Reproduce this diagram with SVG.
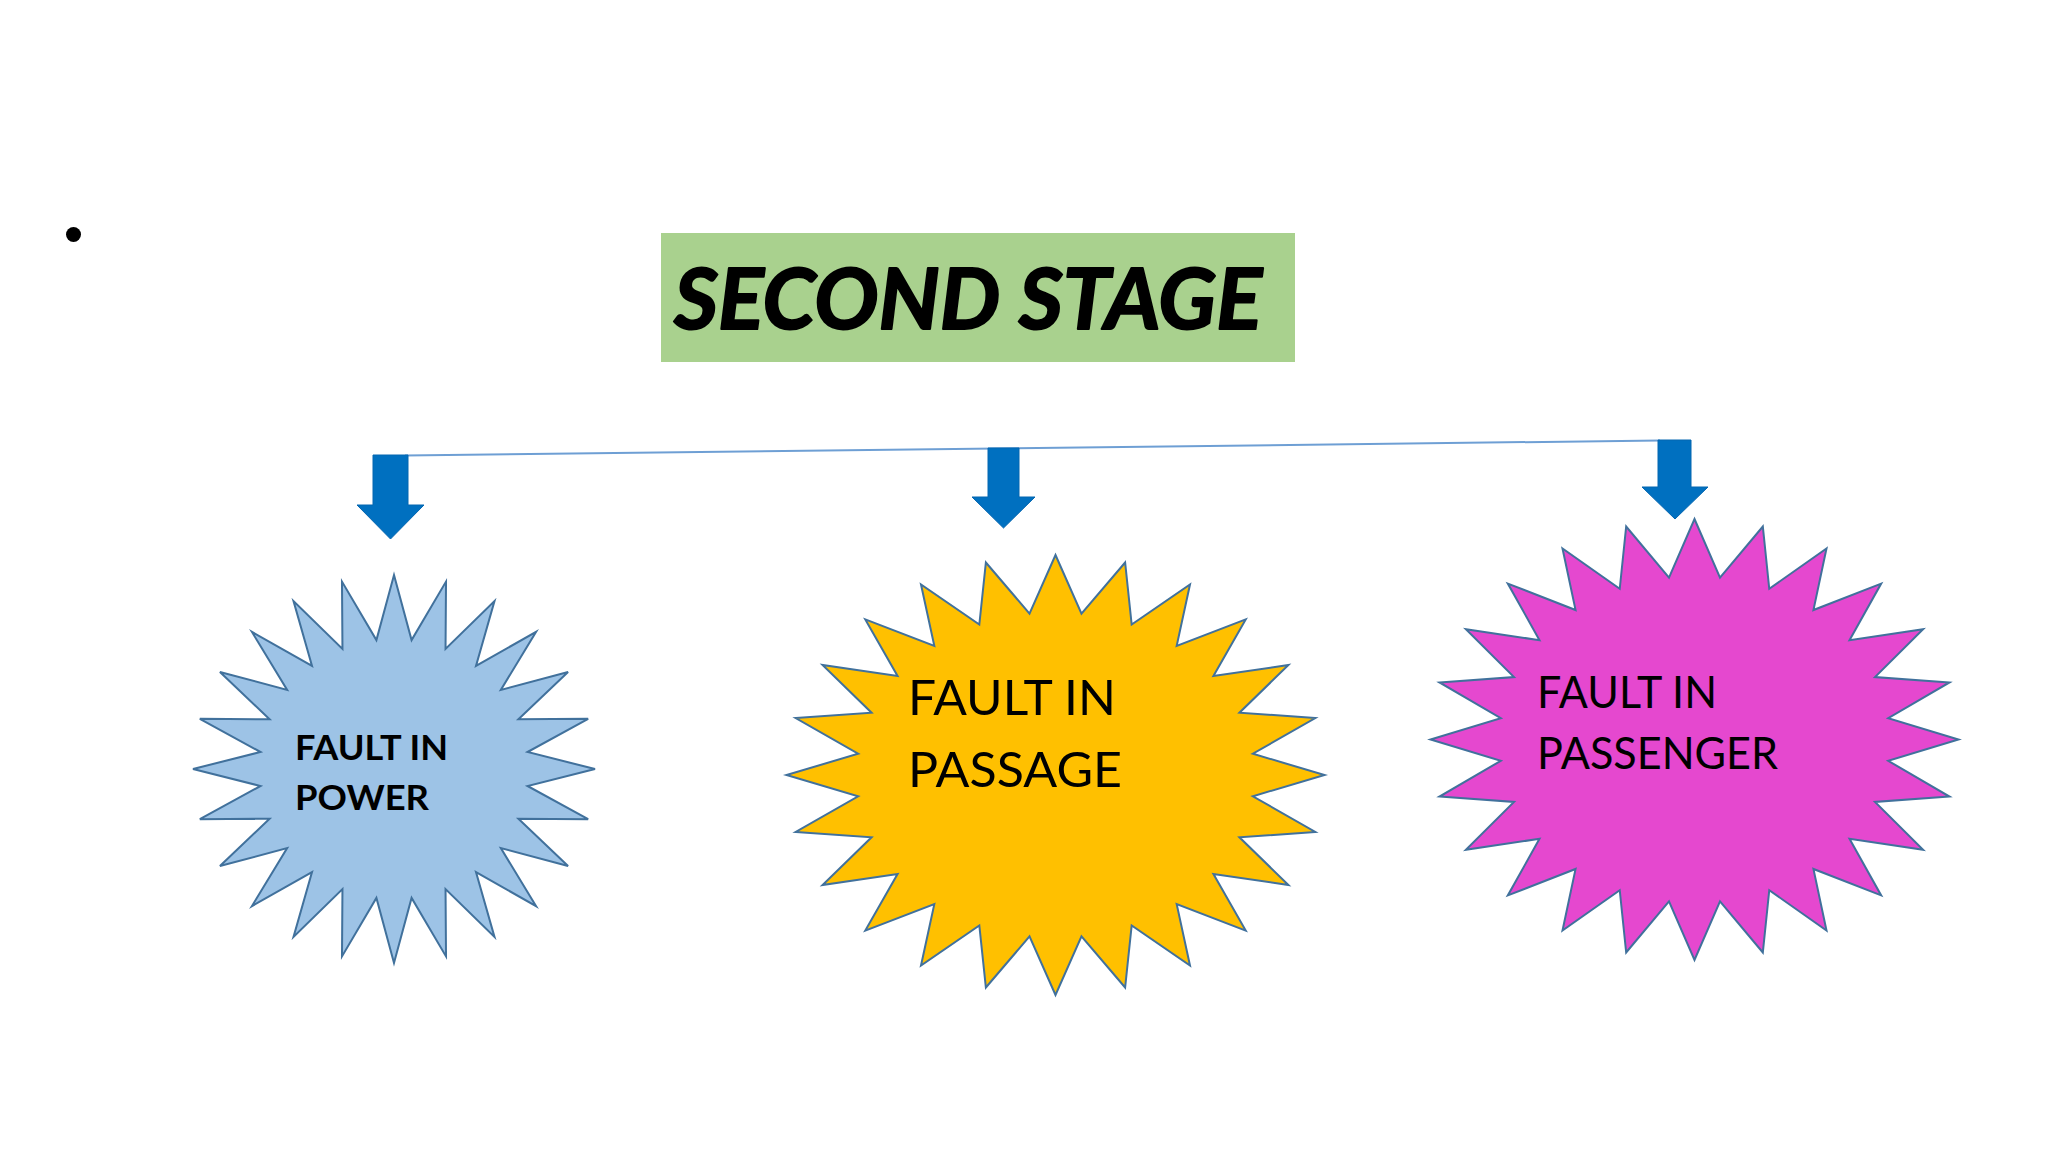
<svg xmlns="http://www.w3.org/2000/svg" width="2048" height="1152" viewBox="0 0 2048 1152">
<style>
  .star{stroke:#41719C;stroke-width:2;vector-effect:non-scaling-stroke;stroke-linejoin:miter}
  .arrow{fill:#0070C0;stroke:#0566B0;stroke-width:1}
  .lbl{font-family:Lato,"Liberation Sans",sans-serif;fill:#000}
  .conn{stroke:#6E9FD4;stroke-width:2;fill:none}
</style>
<rect width="2048" height="1152" fill="#ffffff"/>
<circle cx="73.5" cy="234.5" r="7.5" fill="#000"/>
<g id="title">
  <rect x="661" y="233" width="634" height="129" fill="#A9D18E"/>
  <text class="lbl" x="674" y="329" font-size="85" font-weight="bold" font-style="italic" stroke="#000" stroke-width="2" stroke-linejoin="round" textLength="588" lengthAdjust="spacingAndGlyphs">SECOND STAGE</text>
</g>
<g id="connectors">
  <line class="conn" x1="405" y1="455.5" x2="1660" y2="440.5"/>
  <polygon class="arrow" points="373,455 408,455 408,505 424,505 390.5,539 357,505 373,505"/>
  <polygon class="arrow" points="988,448 1019,448 1019,497 1035,497 1003.5,528 972,497 988,497"/>
  <polygon class="arrow" points="1658,440 1691,440 1691,487 1708,487 1675,519 1642,487 1658,487"/>
</g>
<g id="fault-power">
  <polygon class="star" fill="#9DC3E6" transform="translate(394,769) scale(201,194)" points="0,-1 .0875,-.6643 .2588,-.9659 .2564,-.619 .5,-.866 .4079,-.5315 .7071,-.7071 .5315,-.4079 .866,-.5 .619,-.2564 .9659,-.2588 .6643,-.0875 1,0 .6643,.0875 .9659,.2588 .619,.2564 .866,.5 .5315,.4079 .7071,.7071 .4079,.5315 .5,.866 .2564,.619 .2588,.9659 .0875,.6643 0,1 -.0875,.6643 -.2588,.9659 -.2564,.619 -.5,.866 -.4079,.5315 -.7071,.7071 -.5315,.4079 -.866,.5 -.619,.2564 -.9659,.2588 -.6643,.0875 -1,0 -.6643,-.0875 -.9659,-.2588 -.619,-.2564 -.866,-.5 -.5315,-.4079 -.7071,-.7071 -.4079,-.5315 -.5,-.866 -.2564,-.619 -.2588,-.9659 -.0875,-.6643"/>
  <text class="lbl" font-size="35" font-weight="bold"><tspan x="295" y="760" textLength="153" lengthAdjust="spacingAndGlyphs">FAULT IN</tspan><tspan x="295" y="810" textLength="134" lengthAdjust="spacingAndGlyphs">POWER</tspan></text>
</g>
<g id="fault-passage">
  <polygon class="star" fill="#FFC000" transform="translate(1055.5,775) scale(269,220)" points="0,-1 .0966,-.7337 .2588,-.9659 .2832,-.6837 .5,-.866 .4505,-.5871 .7071,-.7071 .5871,-.4505 .866,-.5 .6837,-.2832 .9659,-.2588 .7337,-.0966 1,0 .7337,.0966 .9659,.2588 .6837,.2832 .866,.5 .5871,.4505 .7071,.7071 .4505,.5871 .5,.866 .2832,.6837 .2588,.9659 .0966,.7337 0,1 -.0966,.7337 -.2588,.9659 -.2832,.6837 -.5,.866 -.4505,.5871 -.7071,.7071 -.5871,.4505 -.866,.5 -.6837,.2832 -.9659,.2588 -.7337,.0966 -1,0 -.7337,-.0966 -.9659,-.2588 -.6837,-.2832 -.866,-.5 -.5871,-.4505 -.7071,-.7071 -.4505,-.5871 -.5,-.866 -.2832,-.6837 -.2588,-.9659 -.0966,-.7337"/>
  <text class="lbl" font-size="49"><tspan x="908" y="715" textLength="208" lengthAdjust="spacingAndGlyphs">FAULT IN</tspan><tspan x="908" y="787" textLength="214" lengthAdjust="spacingAndGlyphs">PASSAGE</tspan></text>
</g>
<g id="fault-passenger">
  <polygon class="star" fill="#E548CF" transform="translate(1694.5,739.5) scale(264,220.5)" points="0,-1 .0966,-.7337 .2588,-.9659 .2832,-.6837 .5,-.866 .4505,-.5871 .7071,-.7071 .5871,-.4505 .866,-.5 .6837,-.2832 .9659,-.2588 .7337,-.0966 1,0 .7337,.0966 .9659,.2588 .6837,.2832 .866,.5 .5871,.4505 .7071,.7071 .4505,.5871 .5,.866 .2832,.6837 .2588,.9659 .0966,.7337 0,1 -.0966,.7337 -.2588,.9659 -.2832,.6837 -.5,.866 -.4505,.5871 -.7071,.7071 -.5871,.4505 -.866,.5 -.6837,.2832 -.9659,.2588 -.7337,.0966 -1,0 -.7337,-.0966 -.9659,-.2588 -.6837,-.2832 -.866,-.5 -.5871,-.4505 -.7071,-.7071 -.4505,-.5871 -.5,-.866 -.2832,-.6837 -.2588,-.9659 -.0966,-.7337"/>
  <text class="lbl" font-size="44"><tspan x="1537" y="708" textLength="180" lengthAdjust="spacingAndGlyphs">FAULT IN</tspan><tspan x="1537" y="769" textLength="241" lengthAdjust="spacingAndGlyphs">PASSENGER</tspan></text>
</g>
</svg>
